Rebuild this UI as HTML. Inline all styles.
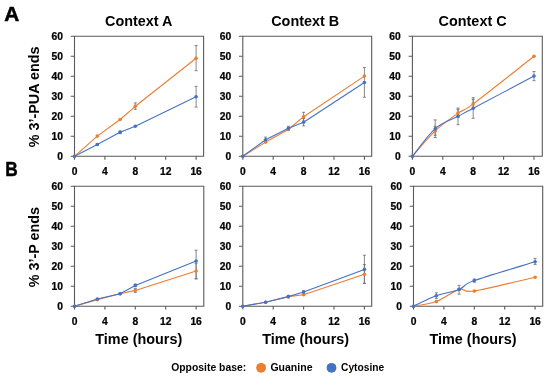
<!DOCTYPE html>
<html><head><meta charset="utf-8"><title>Figure</title>
<style>
html,body{margin:0;padding:0;background:#fff;}
body{width:550px;height:380px;overflow:hidden;}
svg{display:block;font-family:"Liberation Sans", Arial, sans-serif;font-weight:bold;fill:#000;}
</style></head><body>
<svg width="550" height="380" viewBox="0 0 550 380">
<rect width="550" height="380" fill="#fff"/>
<path d="M74.50 156.30 V36.30 H203.60 V156.30 H74.50" fill="none" stroke="#5a5a5a" stroke-width="1.1"/>
<path d="M74.50 156.30h-3.8M74.50 136.30h-3.8M74.50 116.30h-3.8M74.50 96.30h-3.8M74.50 76.30h-3.8M74.50 56.30h-3.8M74.50 36.30h-3.8M74.50 156.30v3.4M104.90 156.30v3.4M135.30 156.30v3.4M165.70 156.30v3.4M196.10 156.30v3.4" fill="none" stroke="#5a5a5a" stroke-width="1.1"/>
<text x="0.00" y="0.00" font-size="10.50" text-anchor="end" transform="translate(62.90 159.90) scale(0.980 1)" stroke="#000" stroke-width="0.25">0</text>
<text x="0.00" y="0.00" font-size="10.50" text-anchor="end" transform="translate(62.90 139.90) scale(0.980 1)" stroke="#000" stroke-width="0.25">10</text>
<text x="0.00" y="0.00" font-size="10.50" text-anchor="end" transform="translate(62.90 119.90) scale(0.980 1)" stroke="#000" stroke-width="0.25">20</text>
<text x="0.00" y="0.00" font-size="10.50" text-anchor="end" transform="translate(62.90 99.90) scale(0.980 1)" stroke="#000" stroke-width="0.25">30</text>
<text x="0.00" y="0.00" font-size="10.50" text-anchor="end" transform="translate(62.90 79.90) scale(0.980 1)" stroke="#000" stroke-width="0.25">40</text>
<text x="0.00" y="0.00" font-size="10.50" text-anchor="end" transform="translate(62.90 59.90) scale(0.980 1)" stroke="#000" stroke-width="0.25">50</text>
<text x="0.00" y="0.00" font-size="10.50" text-anchor="end" transform="translate(62.90 39.90) scale(0.980 1)" stroke="#000" stroke-width="0.25">60</text>
<text x="0.00" y="0.00" font-size="10.50" text-anchor="middle" transform="translate(74.50 175.20) scale(0.980 1)" stroke="#000" stroke-width="0.25">0</text>
<text x="0.00" y="0.00" font-size="10.50" text-anchor="middle" transform="translate(104.90 175.20) scale(0.980 1)" stroke="#000" stroke-width="0.25">4</text>
<text x="0.00" y="0.00" font-size="10.50" text-anchor="middle" transform="translate(135.30 175.20) scale(0.980 1)" stroke="#000" stroke-width="0.25">8</text>
<text x="0.00" y="0.00" font-size="10.50" text-anchor="middle" transform="translate(165.70 175.20) scale(0.980 1)" stroke="#000" stroke-width="0.25">12</text>
<text x="0.00" y="0.00" font-size="10.50" text-anchor="middle" transform="translate(196.10 175.20) scale(0.980 1)" stroke="#000" stroke-width="0.25">16</text>
<path d="M196.10 70.70V45.50M194.60 70.70h3M194.60 45.50h3M196.10 107.10V86.30M194.60 107.10h3M194.60 86.30h3M135.30 109.30V102.90M133.80 109.30h3M133.80 102.90h3M120.10 133.70V130.90M118.60 133.70h3M118.60 130.90h3M97.30 145.50V143.50M95.80 145.50h3M95.80 143.50h3" fill="none" stroke="#6a6a6a" stroke-width="0.8"/>
<path d="M74.50 156.30 L97.30 136.10 L120.10 119.50 L135.30 106.30 L196.10 58.30" fill="none" stroke="#ED7D31" stroke-width="1.1" stroke-linejoin="round"/>
<circle cx="74.50" cy="156.30" r="1.8" fill="#ED7D31"/>
<circle cx="97.30" cy="136.10" r="1.8" fill="#ED7D31"/>
<circle cx="120.10" cy="119.50" r="1.8" fill="#ED7D31"/>
<circle cx="135.30" cy="106.30" r="1.8" fill="#ED7D31"/>
<circle cx="196.10" cy="58.30" r="1.8" fill="#ED7D31"/>
<path d="M74.50 156.30 L97.30 144.50 L120.10 132.30 L135.30 126.30 L196.10 96.70" fill="none" stroke="#4472C4" stroke-width="1.1" stroke-linejoin="round"/>
<circle cx="74.50" cy="156.30" r="1.8" fill="#4472C4"/>
<circle cx="97.30" cy="144.50" r="1.8" fill="#4472C4"/>
<circle cx="120.10" cy="132.30" r="1.8" fill="#4472C4"/>
<circle cx="135.30" cy="126.30" r="1.8" fill="#4472C4"/>
<circle cx="196.10" cy="96.70" r="1.8" fill="#4472C4"/>
<path d="M242.80 156.30 V36.30 H371.70 V156.30 H242.80" fill="none" stroke="#5a5a5a" stroke-width="1.1"/>
<path d="M242.80 156.30h-3.8M242.80 136.30h-3.8M242.80 116.30h-3.8M242.80 96.30h-3.8M242.80 76.30h-3.8M242.80 56.30h-3.8M242.80 36.30h-3.8M242.80 156.30v3.4M273.20 156.30v3.4M303.60 156.30v3.4M334.00 156.30v3.4M364.40 156.30v3.4" fill="none" stroke="#5a5a5a" stroke-width="1.1"/>
<text x="0.00" y="0.00" font-size="10.50" text-anchor="end" transform="translate(231.20 159.90) scale(0.980 1)" stroke="#000" stroke-width="0.25">0</text>
<text x="0.00" y="0.00" font-size="10.50" text-anchor="end" transform="translate(231.20 139.90) scale(0.980 1)" stroke="#000" stroke-width="0.25">10</text>
<text x="0.00" y="0.00" font-size="10.50" text-anchor="end" transform="translate(231.20 119.90) scale(0.980 1)" stroke="#000" stroke-width="0.25">20</text>
<text x="0.00" y="0.00" font-size="10.50" text-anchor="end" transform="translate(231.20 99.90) scale(0.980 1)" stroke="#000" stroke-width="0.25">30</text>
<text x="0.00" y="0.00" font-size="10.50" text-anchor="end" transform="translate(231.20 79.90) scale(0.980 1)" stroke="#000" stroke-width="0.25">40</text>
<text x="0.00" y="0.00" font-size="10.50" text-anchor="end" transform="translate(231.20 59.90) scale(0.980 1)" stroke="#000" stroke-width="0.25">50</text>
<text x="0.00" y="0.00" font-size="10.50" text-anchor="end" transform="translate(231.20 39.90) scale(0.980 1)" stroke="#000" stroke-width="0.25">60</text>
<text x="0.00" y="0.00" font-size="10.50" text-anchor="middle" transform="translate(242.80 175.20) scale(0.980 1)" stroke="#000" stroke-width="0.25">0</text>
<text x="0.00" y="0.00" font-size="10.50" text-anchor="middle" transform="translate(273.20 175.20) scale(0.980 1)" stroke="#000" stroke-width="0.25">4</text>
<text x="0.00" y="0.00" font-size="10.50" text-anchor="middle" transform="translate(303.60 175.20) scale(0.980 1)" stroke="#000" stroke-width="0.25">8</text>
<text x="0.00" y="0.00" font-size="10.50" text-anchor="middle" transform="translate(334.00 175.20) scale(0.980 1)" stroke="#000" stroke-width="0.25">12</text>
<text x="0.00" y="0.00" font-size="10.50" text-anchor="middle" transform="translate(364.40 175.20) scale(0.980 1)" stroke="#000" stroke-width="0.25">16</text>
<path d="M364.40 97.30V67.50M362.90 97.30h3M362.90 67.50h3M303.60 121.10V112.30M302.10 121.10h3M302.10 112.30h3M303.60 125.90V118.50M302.10 125.90h3M302.10 118.50h3M265.60 142.30V137.10M264.10 142.30h3M264.10 137.10h3M288.40 130.30V126.30M286.90 130.30h3M286.90 126.30h3" fill="none" stroke="#6a6a6a" stroke-width="0.8"/>
<path d="M242.80 156.30 L265.60 142.10 L288.40 129.50 L303.60 116.70 L364.40 76.10" fill="none" stroke="#ED7D31" stroke-width="1.1" stroke-linejoin="round"/>
<circle cx="242.80" cy="156.30" r="1.8" fill="#ED7D31"/>
<circle cx="265.60" cy="142.10" r="1.8" fill="#ED7D31"/>
<circle cx="288.40" cy="129.50" r="1.8" fill="#ED7D31"/>
<circle cx="303.60" cy="116.70" r="1.8" fill="#ED7D31"/>
<circle cx="364.40" cy="76.10" r="1.8" fill="#ED7D31"/>
<path d="M242.80 156.30 L265.60 139.70 L288.40 128.30 L303.60 122.30 L364.40 82.50" fill="none" stroke="#4472C4" stroke-width="1.1" stroke-linejoin="round"/>
<circle cx="242.80" cy="156.30" r="1.8" fill="#4472C4"/>
<circle cx="265.60" cy="139.70" r="1.8" fill="#4472C4"/>
<circle cx="288.40" cy="128.30" r="1.8" fill="#4472C4"/>
<circle cx="303.60" cy="122.30" r="1.8" fill="#4472C4"/>
<circle cx="364.40" cy="82.50" r="1.8" fill="#4472C4"/>
<path d="M412.40 156.30 V36.30 H542.30 V156.30 H412.40" fill="none" stroke="#5a5a5a" stroke-width="1.1"/>
<path d="M412.40 156.30h-3.8M412.40 136.30h-3.8M412.40 116.30h-3.8M412.40 96.30h-3.8M412.40 76.30h-3.8M412.40 56.30h-3.8M412.40 36.30h-3.8M412.40 156.30v3.4M442.80 156.30v3.4M473.20 156.30v3.4M503.60 156.30v3.4M534.00 156.30v3.4" fill="none" stroke="#5a5a5a" stroke-width="1.1"/>
<text x="0.00" y="0.00" font-size="10.50" text-anchor="end" transform="translate(400.80 159.90) scale(0.980 1)" stroke="#000" stroke-width="0.25">0</text>
<text x="0.00" y="0.00" font-size="10.50" text-anchor="end" transform="translate(400.80 139.90) scale(0.980 1)" stroke="#000" stroke-width="0.25">10</text>
<text x="0.00" y="0.00" font-size="10.50" text-anchor="end" transform="translate(400.80 119.90) scale(0.980 1)" stroke="#000" stroke-width="0.25">20</text>
<text x="0.00" y="0.00" font-size="10.50" text-anchor="end" transform="translate(400.80 99.90) scale(0.980 1)" stroke="#000" stroke-width="0.25">30</text>
<text x="0.00" y="0.00" font-size="10.50" text-anchor="end" transform="translate(400.80 79.90) scale(0.980 1)" stroke="#000" stroke-width="0.25">40</text>
<text x="0.00" y="0.00" font-size="10.50" text-anchor="end" transform="translate(400.80 59.90) scale(0.980 1)" stroke="#000" stroke-width="0.25">50</text>
<text x="0.00" y="0.00" font-size="10.50" text-anchor="end" transform="translate(400.80 39.90) scale(0.980 1)" stroke="#000" stroke-width="0.25">60</text>
<text x="0.00" y="0.00" font-size="10.50" text-anchor="middle" transform="translate(412.40 175.20) scale(0.980 1)" stroke="#000" stroke-width="0.25">0</text>
<text x="0.00" y="0.00" font-size="10.50" text-anchor="middle" transform="translate(442.80 175.20) scale(0.980 1)" stroke="#000" stroke-width="0.25">4</text>
<text x="0.00" y="0.00" font-size="10.50" text-anchor="middle" transform="translate(473.20 175.20) scale(0.980 1)" stroke="#000" stroke-width="0.25">8</text>
<text x="0.00" y="0.00" font-size="10.50" text-anchor="middle" transform="translate(503.60 175.20) scale(0.980 1)" stroke="#000" stroke-width="0.25">12</text>
<text x="0.00" y="0.00" font-size="10.50" text-anchor="middle" transform="translate(534.00 175.20) scale(0.980 1)" stroke="#000" stroke-width="0.25">16</text>
<path d="M435.20 137.50V119.90M433.70 137.50h3M433.70 119.90h3M458.00 124.70V108.10M456.50 124.70h3M456.50 108.10h3M473.20 118.30V97.70M471.70 118.30h3M471.70 97.70h3M534.00 80.70V71.50M532.50 80.70h3M532.50 71.50h3M435.20 135.30V126.30M433.70 135.30h3M433.70 126.30h3M458.00 117.30V109.30M456.50 117.30h3M456.50 109.30h3M473.20 108.30V99.30M471.70 108.30h3M471.70 99.30h3" fill="none" stroke="#6a6a6a" stroke-width="0.8"/>
<path d="M412.40 156.30 C416.20 152.07 427.60 138.10 435.20 130.90 C442.80 123.70 451.67 117.60 458.00 113.10 C464.33 108.60 460.53 113.37 473.20 103.90 C485.87 94.43 523.87 64.23 534.00 56.30" fill="none" stroke="#ED7D31" stroke-width="1.1" stroke-linejoin="round"/>
<circle cx="412.40" cy="156.30" r="1.8" fill="#ED7D31"/>
<circle cx="435.20" cy="130.90" r="1.8" fill="#ED7D31"/>
<circle cx="458.00" cy="113.10" r="1.8" fill="#ED7D31"/>
<circle cx="473.20" cy="103.90" r="1.8" fill="#ED7D31"/>
<circle cx="534.00" cy="56.30" r="1.8" fill="#ED7D31"/>
<path d="M412.40 156.30 C416.20 151.70 427.60 135.37 435.20 128.70 C442.80 122.03 451.67 119.70 458.00 116.30 C464.33 112.90 460.53 115.00 473.20 108.30 C485.87 101.60 523.87 81.47 534.00 76.10" fill="none" stroke="#4472C4" stroke-width="1.1" stroke-linejoin="round"/>
<circle cx="412.40" cy="156.30" r="1.8" fill="#4472C4"/>
<circle cx="435.20" cy="128.70" r="1.8" fill="#4472C4"/>
<circle cx="458.00" cy="116.30" r="1.8" fill="#4472C4"/>
<circle cx="473.20" cy="108.30" r="1.8" fill="#4472C4"/>
<circle cx="534.00" cy="76.10" r="1.8" fill="#4472C4"/>
<path d="M74.50 306.20 V186.20 H203.80 V306.20 H74.50" fill="none" stroke="#5a5a5a" stroke-width="1.1"/>
<path d="M74.50 306.20h-3.8M74.50 286.20h-3.8M74.50 266.20h-3.8M74.50 246.20h-3.8M74.50 226.20h-3.8M74.50 206.20h-3.8M74.50 186.20h-3.8M74.50 306.20v3.4M104.90 306.20v3.4M135.30 306.20v3.4M165.70 306.20v3.4M196.10 306.20v3.4" fill="none" stroke="#5a5a5a" stroke-width="1.1"/>
<text x="0.00" y="0.00" font-size="10.50" text-anchor="end" transform="translate(62.90 309.80) scale(0.980 1)" stroke="#000" stroke-width="0.25">0</text>
<text x="0.00" y="0.00" font-size="10.50" text-anchor="end" transform="translate(62.90 289.80) scale(0.980 1)" stroke="#000" stroke-width="0.25">10</text>
<text x="0.00" y="0.00" font-size="10.50" text-anchor="end" transform="translate(62.90 269.80) scale(0.980 1)" stroke="#000" stroke-width="0.25">20</text>
<text x="0.00" y="0.00" font-size="10.50" text-anchor="end" transform="translate(62.90 249.80) scale(0.980 1)" stroke="#000" stroke-width="0.25">30</text>
<text x="0.00" y="0.00" font-size="10.50" text-anchor="end" transform="translate(62.90 229.80) scale(0.980 1)" stroke="#000" stroke-width="0.25">40</text>
<text x="0.00" y="0.00" font-size="10.50" text-anchor="end" transform="translate(62.90 209.80) scale(0.980 1)" stroke="#000" stroke-width="0.25">50</text>
<text x="0.00" y="0.00" font-size="10.50" text-anchor="end" transform="translate(62.90 189.80) scale(0.980 1)" stroke="#000" stroke-width="0.25">60</text>
<text x="0.00" y="0.00" font-size="10.50" text-anchor="middle" transform="translate(74.50 325.10) scale(0.980 1)" stroke="#000" stroke-width="0.25">0</text>
<text x="0.00" y="0.00" font-size="10.50" text-anchor="middle" transform="translate(104.90 325.10) scale(0.980 1)" stroke="#000" stroke-width="0.25">4</text>
<text x="0.00" y="0.00" font-size="10.50" text-anchor="middle" transform="translate(135.30 325.10) scale(0.980 1)" stroke="#000" stroke-width="0.25">8</text>
<text x="0.00" y="0.00" font-size="10.50" text-anchor="middle" transform="translate(165.70 325.10) scale(0.980 1)" stroke="#000" stroke-width="0.25">12</text>
<text x="0.00" y="0.00" font-size="10.50" text-anchor="middle" transform="translate(196.10 325.10) scale(0.980 1)" stroke="#000" stroke-width="0.25">16</text>
<path d="M196.10 278.80V250.20M194.60 278.80h3M194.60 250.20h3M135.30 292.40V288.40M133.80 292.40h3M133.80 288.40h3M135.30 286.60V284.20M133.80 286.60h3M133.80 284.20h3M196.10 278.80V263.20M194.60 278.80h3M194.60 263.20h3" fill="none" stroke="#6a6a6a" stroke-width="0.8"/>
<path d="M74.50 306.20 L97.30 299.60 L120.10 293.80 L135.30 290.40 L196.10 271.00" fill="none" stroke="#ED7D31" stroke-width="1.1" stroke-linejoin="round"/>
<circle cx="74.50" cy="306.20" r="1.8" fill="#ED7D31"/>
<circle cx="97.30" cy="299.60" r="1.8" fill="#ED7D31"/>
<circle cx="120.10" cy="293.80" r="1.8" fill="#ED7D31"/>
<circle cx="135.30" cy="290.40" r="1.8" fill="#ED7D31"/>
<circle cx="196.10" cy="271.00" r="1.8" fill="#ED7D31"/>
<path d="M74.50 306.20 L97.30 299.00 L120.10 293.80 L135.30 285.40 L196.10 261.00" fill="none" stroke="#4472C4" stroke-width="1.1" stroke-linejoin="round"/>
<circle cx="74.50" cy="306.20" r="1.8" fill="#4472C4"/>
<circle cx="97.30" cy="299.00" r="1.8" fill="#4472C4"/>
<circle cx="120.10" cy="293.80" r="1.8" fill="#4472C4"/>
<circle cx="135.30" cy="285.40" r="1.8" fill="#4472C4"/>
<circle cx="196.10" cy="261.00" r="1.8" fill="#4472C4"/>
<path d="M242.80 306.20 V186.20 H371.70 V306.20 H242.80" fill="none" stroke="#5a5a5a" stroke-width="1.1"/>
<path d="M242.80 306.20h-3.8M242.80 286.20h-3.8M242.80 266.20h-3.8M242.80 246.20h-3.8M242.80 226.20h-3.8M242.80 206.20h-3.8M242.80 186.20h-3.8M242.80 306.20v3.4M273.20 306.20v3.4M303.60 306.20v3.4M334.00 306.20v3.4M364.40 306.20v3.4" fill="none" stroke="#5a5a5a" stroke-width="1.1"/>
<text x="0.00" y="0.00" font-size="10.50" text-anchor="end" transform="translate(231.20 309.80) scale(0.980 1)" stroke="#000" stroke-width="0.25">0</text>
<text x="0.00" y="0.00" font-size="10.50" text-anchor="end" transform="translate(231.20 289.80) scale(0.980 1)" stroke="#000" stroke-width="0.25">10</text>
<text x="0.00" y="0.00" font-size="10.50" text-anchor="end" transform="translate(231.20 269.80) scale(0.980 1)" stroke="#000" stroke-width="0.25">20</text>
<text x="0.00" y="0.00" font-size="10.50" text-anchor="end" transform="translate(231.20 249.80) scale(0.980 1)" stroke="#000" stroke-width="0.25">30</text>
<text x="0.00" y="0.00" font-size="10.50" text-anchor="end" transform="translate(231.20 229.80) scale(0.980 1)" stroke="#000" stroke-width="0.25">40</text>
<text x="0.00" y="0.00" font-size="10.50" text-anchor="end" transform="translate(231.20 209.80) scale(0.980 1)" stroke="#000" stroke-width="0.25">50</text>
<text x="0.00" y="0.00" font-size="10.50" text-anchor="end" transform="translate(231.20 189.80) scale(0.980 1)" stroke="#000" stroke-width="0.25">60</text>
<text x="0.00" y="0.00" font-size="10.50" text-anchor="middle" transform="translate(242.80 325.10) scale(0.980 1)" stroke="#000" stroke-width="0.25">0</text>
<text x="0.00" y="0.00" font-size="10.50" text-anchor="middle" transform="translate(273.20 325.10) scale(0.980 1)" stroke="#000" stroke-width="0.25">4</text>
<text x="0.00" y="0.00" font-size="10.50" text-anchor="middle" transform="translate(303.60 325.10) scale(0.980 1)" stroke="#000" stroke-width="0.25">8</text>
<text x="0.00" y="0.00" font-size="10.50" text-anchor="middle" transform="translate(334.00 325.10) scale(0.980 1)" stroke="#000" stroke-width="0.25">12</text>
<text x="0.00" y="0.00" font-size="10.50" text-anchor="middle" transform="translate(364.40 325.10) scale(0.980 1)" stroke="#000" stroke-width="0.25">16</text>
<path d="M364.40 283.40V255.20M362.90 283.40h3M362.90 255.20h3M364.40 283.40V264.60M362.90 283.40h3M362.90 264.60h3M288.40 297.80V295.40M286.90 297.80h3M286.90 295.40h3M303.60 293.40V290.60M302.10 293.40h3M302.10 290.60h3" fill="none" stroke="#6a6a6a" stroke-width="0.8"/>
<path d="M242.80 306.20 L265.60 302.20 L288.40 296.60 L303.60 294.80 L364.40 274.20" fill="none" stroke="#ED7D31" stroke-width="1.1" stroke-linejoin="round"/>
<circle cx="242.80" cy="306.20" r="1.8" fill="#ED7D31"/>
<circle cx="265.60" cy="302.20" r="1.8" fill="#ED7D31"/>
<circle cx="288.40" cy="296.60" r="1.8" fill="#ED7D31"/>
<circle cx="303.60" cy="294.80" r="1.8" fill="#ED7D31"/>
<circle cx="364.40" cy="274.20" r="1.8" fill="#ED7D31"/>
<path d="M242.80 306.20 L265.60 302.20 L288.40 296.60 L303.60 292.00 L364.40 269.40" fill="none" stroke="#4472C4" stroke-width="1.1" stroke-linejoin="round"/>
<circle cx="242.80" cy="306.20" r="1.8" fill="#4472C4"/>
<circle cx="265.60" cy="302.20" r="1.8" fill="#4472C4"/>
<circle cx="288.40" cy="296.60" r="1.8" fill="#4472C4"/>
<circle cx="303.60" cy="292.00" r="1.8" fill="#4472C4"/>
<circle cx="364.40" cy="269.40" r="1.8" fill="#4472C4"/>
<path d="M413.50 306.20 V186.20 H542.70 V306.20 H413.50" fill="none" stroke="#5a5a5a" stroke-width="1.1"/>
<path d="M413.50 306.20h-3.8M413.50 286.20h-3.8M413.50 266.20h-3.8M413.50 246.20h-3.8M413.50 226.20h-3.8M413.50 206.20h-3.8M413.50 186.20h-3.8M413.50 306.20v3.4M443.90 306.20v3.4M474.30 306.20v3.4M504.70 306.20v3.4M535.10 306.20v3.4" fill="none" stroke="#5a5a5a" stroke-width="1.1"/>
<text x="0.00" y="0.00" font-size="10.50" text-anchor="end" transform="translate(401.90 309.80) scale(0.980 1)" stroke="#000" stroke-width="0.25">0</text>
<text x="0.00" y="0.00" font-size="10.50" text-anchor="end" transform="translate(401.90 289.80) scale(0.980 1)" stroke="#000" stroke-width="0.25">10</text>
<text x="0.00" y="0.00" font-size="10.50" text-anchor="end" transform="translate(401.90 269.80) scale(0.980 1)" stroke="#000" stroke-width="0.25">20</text>
<text x="0.00" y="0.00" font-size="10.50" text-anchor="end" transform="translate(401.90 249.80) scale(0.980 1)" stroke="#000" stroke-width="0.25">30</text>
<text x="0.00" y="0.00" font-size="10.50" text-anchor="end" transform="translate(401.90 229.80) scale(0.980 1)" stroke="#000" stroke-width="0.25">40</text>
<text x="0.00" y="0.00" font-size="10.50" text-anchor="end" transform="translate(401.90 209.80) scale(0.980 1)" stroke="#000" stroke-width="0.25">50</text>
<text x="0.00" y="0.00" font-size="10.50" text-anchor="end" transform="translate(401.90 189.80) scale(0.980 1)" stroke="#000" stroke-width="0.25">60</text>
<text x="0.00" y="0.00" font-size="10.50" text-anchor="middle" transform="translate(413.50 325.10) scale(0.980 1)" stroke="#000" stroke-width="0.25">0</text>
<text x="0.00" y="0.00" font-size="10.50" text-anchor="middle" transform="translate(443.90 325.10) scale(0.980 1)" stroke="#000" stroke-width="0.25">4</text>
<text x="0.00" y="0.00" font-size="10.50" text-anchor="middle" transform="translate(474.30 325.10) scale(0.980 1)" stroke="#000" stroke-width="0.25">8</text>
<text x="0.00" y="0.00" font-size="10.50" text-anchor="middle" transform="translate(504.70 325.10) scale(0.980 1)" stroke="#000" stroke-width="0.25">12</text>
<text x="0.00" y="0.00" font-size="10.50" text-anchor="middle" transform="translate(535.10 325.10) scale(0.980 1)" stroke="#000" stroke-width="0.25">16</text>
<path d="M436.30 298.60V292.80M434.80 298.60h3M434.80 292.80h3M459.10 294.20V285.40M457.60 294.20h3M457.60 285.40h3M535.10 264.60V258.40M533.60 264.60h3M533.60 258.40h3M474.30 282.20V279.00M472.80 282.20h3M472.80 279.00h3" fill="none" stroke="#6a6a6a" stroke-width="0.8"/>
<path d="M413.50 306.20 C417.30 305.43 428.70 304.40 436.30 301.60 C443.90 298.80 452.77 291.17 459.10 289.40 C465.43 287.63 461.63 293.03 474.30 291.00 C486.97 288.97 524.97 279.50 535.10 277.20" fill="none" stroke="#ED7D31" stroke-width="1.1" stroke-linejoin="round"/>
<circle cx="413.50" cy="306.20" r="1.8" fill="#ED7D31"/>
<circle cx="436.30" cy="301.60" r="1.8" fill="#ED7D31"/>
<circle cx="459.10" cy="289.40" r="1.8" fill="#ED7D31"/>
<circle cx="474.30" cy="291.00" r="1.8" fill="#ED7D31"/>
<circle cx="535.10" cy="277.20" r="1.8" fill="#ED7D31"/>
<path d="M413.50 306.20 C417.30 304.47 428.70 298.60 436.30 295.80 C443.90 293.00 452.77 291.93 459.10 289.40 C465.43 286.87 461.63 285.20 474.30 280.60 C486.97 276.00 524.97 264.93 535.10 261.80" fill="none" stroke="#4472C4" stroke-width="1.1" stroke-linejoin="round"/>
<circle cx="413.50" cy="306.20" r="1.8" fill="#4472C4"/>
<circle cx="436.30" cy="295.80" r="1.8" fill="#4472C4"/>
<circle cx="459.10" cy="289.40" r="1.8" fill="#4472C4"/>
<circle cx="474.30" cy="280.60" r="1.8" fill="#4472C4"/>
<circle cx="535.10" cy="261.80" r="1.8" fill="#4472C4"/>
<text x="138.70" y="26.00" font-size="14.40" text-anchor="middle">Context A</text>
<text x="305.20" y="26.00" font-size="14.40" text-anchor="middle">Context B</text>
<text x="472.60" y="26.00" font-size="14.40" text-anchor="middle">Context C</text>
<text x="138.80" y="344.30" font-size="14.40" text-anchor="middle">Time (hours)</text>
<text x="305.60" y="344.30" font-size="14.40" text-anchor="middle">Time (hours)</text>
<text x="473.00" y="344.30" font-size="14.40" text-anchor="middle">Time (hours)</text>
<text font-size="14.35" text-anchor="middle" transform="translate(39.3 96.9) rotate(-90)">% 3’-PUA ends</text>
<text font-size="14.35" text-anchor="middle" transform="translate(39.3 247.2) rotate(-90)">% 3’-P ends</text>
<text x="0.00" y="0.00" font-size="19.30" text-anchor="start" transform="translate(4.30 21.10) scale(1.080 1)" stroke="#000" stroke-width="0.5">A</text>
<text x="0.00" y="0.00" font-size="20.60" text-anchor="start" transform="translate(5.20 176.30) scale(0.840 1)" stroke="#000" stroke-width="0.5">B</text>
<text x="0.00" y="0.00" font-size="11.30" text-anchor="start" transform="translate(171.20 371.30) scale(0.920 1)">Opposite base:</text>
<circle cx="261.1" cy="367.8" r="4.9" fill="#ED7D31"/>
<text x="0.00" y="0.00" font-size="11.20" text-anchor="start" transform="translate(270.40 371.30) scale(0.940 1)">Guanine</text>
<circle cx="331.5" cy="367.8" r="4.9" fill="#4472C4"/>
<text x="0.00" y="0.00" font-size="11.30" text-anchor="start" transform="translate(341.00 371.30) scale(0.905 1)">Cytosine</text>
</svg>
</body></html>
